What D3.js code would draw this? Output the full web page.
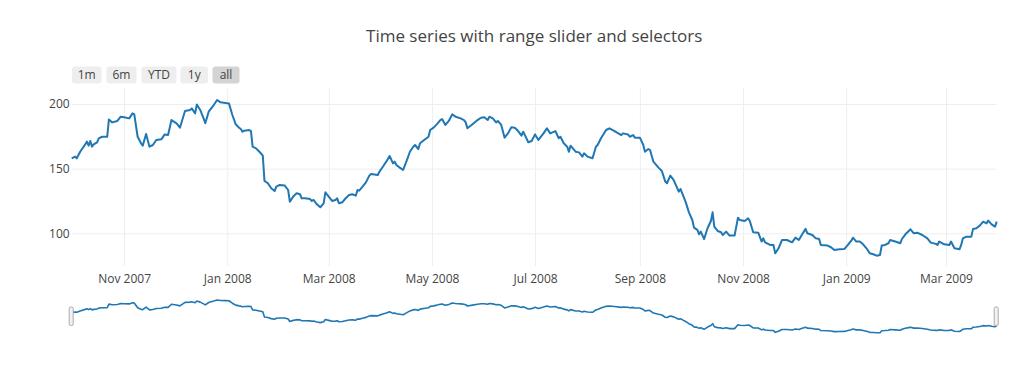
<!DOCTYPE html>
<html>
<head>
<meta charset="utf-8">
<script src="https://cdn.jsdelivr.net/npm/d3@7"></script>
<style>
    body { margin: 0; background: #fff; }
    text { font-family: "Open Sans", verdana, arial, sans-serif; fill: #444; }
</style>
</head>
<body>
<svg id="chart"></svg>
<script>
let title = 'Time series with range slider and selectors';
let buttons = ['1m', '6m', 'YTD', '1y', 'all'];
let activeButton = 'all';
let yTicks = [100, 150, 200];

let dates = [
    '2007-10-01','2007-10-03','2007-10-04','2007-10-06','2007-10-09','2007-10-10','2007-10-11','2007-10-12',
    '2007-10-13','2007-10-14','2007-10-16','2007-10-17','2007-10-19','2007-10-22','2007-10-23','2007-10-25',
    '2007-10-28','2007-10-30','2007-11-01','2007-11-04','2007-11-06','2007-11-07','2007-11-09','2007-11-11',
    '2007-11-12','2007-11-14','2007-11-16','2007-11-18','2007-11-20','2007-11-23','2007-11-25','2007-11-27',
    '2007-11-29','2007-12-02','2007-12-04','2007-12-07','2007-12-10','2007-12-11','2007-12-13','2007-12-14',
    '2007-12-16','2007-12-18','2007-12-19','2007-12-21','2007-12-24','2007-12-26','2007-12-28','2007-12-31',
    '2008-01-02','2008-01-04','2008-01-06','2008-01-08','2008-01-09','2008-01-10','2008-01-11','2008-01-14',
    '2008-01-15','2008-01-16','2008-01-18','2008-01-20','2008-01-22','2008-01-23','2008-01-25','2008-01-27',
    '2008-01-29','2008-01-30','2008-02-01','2008-02-04','2008-02-06','2008-02-07','2008-02-09','2008-02-11',
    '2008-02-13','2008-02-14','2008-02-16','2008-02-19','2008-02-20','2008-02-21','2008-02-23','2008-02-25',
    '2008-02-27','2008-02-28','2008-03-01','2008-03-03','2008-03-05','2008-03-06','2008-03-07','2008-03-09',
    '2008-03-11','2008-03-13','2008-03-15','2008-03-17','2008-03-18','2008-03-19','2008-03-21','2008-03-23',
    '2008-03-25','2008-03-26','2008-03-30','2008-03-31','2008-04-02','2008-04-04','2008-04-06','2008-04-08',
    '2008-04-09','2008-04-10','2008-04-12','2008-04-14','2008-04-16','2008-04-18','2008-04-20','2008-04-21',
    '2008-04-23','2008-04-24','2008-04-27','2008-04-29','2008-04-30','2008-05-02','2008-05-04','2008-05-06',
    '2008-05-07','2008-05-09','2008-05-11','2008-05-13','2008-05-15','2008-05-18','2008-05-20','2008-05-21',
    '2008-05-22','2008-05-25','2008-05-28','2008-05-30','2008-06-01','2008-06-03','2008-06-04','2008-06-06',
    '2008-06-08','2008-06-09','2008-06-11','2008-06-13','2008-06-15','2008-06-17','2008-06-19','2008-06-21',
    '2008-06-23','2008-06-24','2008-06-27','2008-06-29','2008-07-01','2008-07-03','2008-07-06','2008-07-08',
    '2008-07-10','2008-07-13','2008-07-15','2008-07-16','2008-07-18','2008-07-20','2008-07-21','2008-07-22',
    '2008-07-25','2008-07-27','2008-07-29','2008-07-30','2008-08-01','2008-08-04','2008-08-06','2008-08-07',
    '2008-08-09','2008-08-12','2008-08-14','2008-08-17','2008-08-21','2008-08-22','2008-08-25','2008-08-26',
    '2008-08-28','2008-08-29','2008-09-01','2008-09-03','2008-09-04','2008-09-06','2008-09-07','2008-09-09',
    '2008-09-12','2008-09-14','2008-09-16','2008-09-17','2008-09-19','2008-09-21','2008-09-24','2008-09-25',
    '2008-09-26','2008-09-28','2008-09-30','2008-10-02','2008-10-03','2008-10-05','2008-10-06','2008-10-07',
    '2008-10-09','2008-10-11','2008-10-13','2008-10-14','2008-10-15','2008-10-17','2008-10-19','2008-10-20',
    '2008-10-22','2008-10-24','2008-10-27','2008-10-29','2008-10-30','2008-11-02','2008-11-04','2008-11-05',
    '2008-11-07','2008-11-10','2008-11-12','2008-11-13','2008-11-14','2008-11-17','2008-11-19','2008-11-20',
    '2008-11-22','2008-11-24','2008-11-27','2008-11-30','2008-12-02','2008-12-04','2008-12-06','2008-12-08',
    '2008-12-09','2008-12-12','2008-12-14','2008-12-16','2008-12-17','2008-12-21','2008-12-23','2008-12-25',
    '2008-12-28','2008-12-31','2009-01-02','2009-01-04','2009-01-05','2009-01-07','2009-01-09','2009-01-11',
    '2009-01-13','2009-01-15','2009-01-17','2009-01-19','2009-01-21','2009-01-22','2009-01-24','2009-01-26',
    '2009-01-27','2009-01-30','2009-02-02','2009-02-03','2009-02-05','2009-02-07','2009-02-08','2009-02-10',
    '2009-02-12','2009-02-15','2009-02-18','2009-02-20','2009-02-23','2009-02-24','2009-02-25','2009-02-28',
    '2009-03-03','2009-03-04','2009-03-06','2009-03-09','2009-03-10','2009-03-11','2009-03-13','2009-03-16',
    '2009-03-17','2009-03-19','2009-03-21','2009-03-23','2009-03-25','2009-03-26','2009-03-28','2009-03-30',
    '2009-03-31'
];

let prices = [
    158.0,159.3,158.0,163.1,168.8,170.9,167.8,171.4,
    167.0,168.8,170.4,173.5,174.7,174.7,188.1,185.8,
    186.9,190.2,189.7,188.9,192.8,192.0,174.7,169.6,
    167.8,176.8,167.0,168.3,172.2,172.7,176.5,176.0,
    187.6,185.1,181.7,194.6,195.4,196.6,192.8,199.7,
    195.4,188.9,185.1,194.1,199.2,203.1,201.3,200.8,
    200.5,191.5,184.3,181.7,180.7,178.6,179.4,179.9,
    179.1,167.0,165.7,163.1,160.1,140.5,138.7,134.8,
    132.7,136.1,137.4,136.9,133.5,124.5,128.4,131.0,
    130.2,127.1,127.1,126.5,125.0,125.8,122.4,120.1,
    123.2,131.7,128.4,125.0,125.8,127.1,123.2,124.0,
    127.1,129.6,130.2,129.1,133.5,133.0,136.1,139.4,
    144.6,145.9,145.1,147.7,151.5,155.4,159.8,154.1,
    155.4,152.8,150.8,149.0,155.9,163.1,167.0,168.3,
    165.2,169.6,172.7,174.7,179.9,181.7,184.5,187.6,
    188.4,183.8,186.9,192.0,190.2,188.9,187.6,185.8,
    181.2,184.3,187.6,189.4,189.7,187.6,190.2,188.9,
    185.8,186.9,183.8,174.0,177.3,182.0,181.7,179.1,
    175.5,178.6,170.4,171.4,176.5,172.2,177.3,181.2,
    177.3,179.1,173.5,174.7,169.6,167.0,163.1,167.8,
    163.1,162.6,159.3,161.9,159.3,158.0,167.0,168.3,
    173.5,179.9,181.2,179.1,176.0,177.3,176.5,174.7,
    176.0,174.0,174.0,168.3,163.1,165.2,164.4,155.4,
    150.8,148.2,140.0,138.7,144.6,141.2,132.2,134.3,
    131.0,124.5,116.2,110.3,104.4,102.6,99.2,101.3,
    95.6,103.9,109.5,116.2,105.2,101.8,100.8,98.7,
    101.3,98.2,98.2,112.1,110.3,109.5,111.6,109.5,
    100.8,100.5,93.6,96.1,93.0,91.0,91.0,84.5,
    88.4,94.8,94.8,93.0,96.6,94.8,99.2,103.4,
    100.0,98.7,96.1,95.6,91.0,90.5,89.2,87.1,
    87.6,87.9,91.0,94.3,96.6,93.6,93.6,91.5,
    88.4,84.5,83.8,82.7,83.2,90.5,91.0,92.3,
    94.8,93.6,92.3,95.6,99.2,101.8,103.1,100.0,
    100.5,98.7,96.1,92.8,91.8,91.0,93.6,91.5,
    91.0,93.6,88.4,87.6,91.0,96.1,97.4,97.4,
    103.4,103.9,105.9,109.0,107.7,109.8,106.9,105.2,
    109.0
];

function drawChart () {
    let w = 1033;
    let h = 372;
    let parse = d3.timeParse('%Y-%m-%d');
    let data = dates.map((d, i) => { return { date: parse(d), value: prices[i] }; });

    let plot   = { x1: 71.7, x2: 996.7, y1: 88, y2: 266 };
    let slider = { y1: 297.5, y2: 335 };
    let yRange = [74.7, 212.4];

    let svg = d3.select('#chart')
        .attr('width', w)
        .attr('height', h);

    let x = d3.scaleTime()
        .domain(d3.extent(data, (d) => { return d.date; }))
        .range([plot.x1, plot.x2]);

    let y = d3.scaleLinear()
        .domain(yRange)
        .range([plot.y2, plot.y1]);

    let ySlider = d3.scaleLinear()
        .domain(yRange)
        .range([slider.y2, slider.y1]);

    // title
    svg.append('text')
        .attr('x', (plot.x1 + plot.x2) / 2)
        .attr('y', 42)
        .attr('text-anchor', 'middle')
        .style('font-size', '17px')
        .text(title);

    // grid + axes
    let xAxis = d3.axisBottom(x)
        .ticks(d3.timeMonth.every(2))
        .tickFormat(d3.timeFormat('%b %Y'))
        .tickSize(-(plot.y2 - plot.y1))
        .tickPadding(8);

    let gx = svg.append('g')
        .attr('class', 'x axis')
        .attr('transform', 'translate(0,' + plot.y2 + ')')
        .call(xAxis);

    let yAxis = d3.axisLeft(y)
        .tickValues(yTicks)
        .tickSize(-(plot.x2 - plot.x1))
        .tickPadding(2);

    let gy = svg.append('g')
        .attr('class', 'y axis')
        .attr('transform', 'translate(' + plot.x1 + ',0)')
        .call(yAxis);

    [gx, gy].forEach((g) => {
        g.select('.domain').remove();
        g.selectAll('line').attr('stroke', '#eee').attr('stroke-width', 1);
        g.selectAll('text')
            .style('font-size', '12px')
            .style('font-family', '"Open Sans", verdana, arial, sans-serif')
            .attr('fill', '#444');
    });

    // main line
    let line = d3.line()
        .x((d) => { return x(d.date); })
        .y((d) => { return y(d.value); });

    svg.append('path')
        .datum(data)
        .attr('d', line)
        .attr('fill', 'none')
        .attr('stroke', '#1f77b4')
        .attr('stroke-width', 2)
        .attr('stroke-linejoin', 'round');

    // range slider
    let sliderLine = d3.line()
        .x((d) => { return x(d.date); })
        .y((d) => { return ySlider(d.value); });

    svg.append('path')
        .datum(data)
        .attr('d', sliderLine)
        .attr('fill', 'none')
        .attr('stroke', '#1f77b4')
        .attr('stroke-width', 1.6)
        .attr('stroke-linejoin', 'round');

    let mid = (slider.y1 + slider.y2) / 2;
    svg.selectAll('rect.grabber')
        .data(x.range())
        .enter()
        .append('rect')
        .attr('class', 'grabber')
        .attr('x', (d) => { return d - 2.5; })
        .attr('y', mid - 9.3)
        .attr('width', 4)
        .attr('height', 18.6)
        .attr('rx', 1.5)
        .attr('fill', '#f2f2f2')
        .attr('stroke', '#aaa')
        .attr('stroke-width', 1);

    // range selector buttons
    let bx = [72, 106.5, 141.5, 180.5, 212.5];
    let bw = [29.5, 30, 35, 27.5, 27];
    let gb = svg.selectAll('g.button')
        .data(buttons)
        .enter()
        .append('g')
        .attr('class', 'button')
        .attr('transform', (d, i) => { return 'translate(' + bx[i] + ',66.5)'; });

    gb.append('rect')
        .attr('width', (d, i) => { return bw[i]; })
        .attr('height', 17)
        .attr('rx', 3)
        .attr('fill', (d) => { return d === activeButton ? '#d4d4d4' : '#eee'; });

    gb.append('text')
        .attr('x', (d, i) => { return bw[i] / 2; })
        .attr('y', 12.6)
        .attr('text-anchor', 'middle')
        .style('font-size', '12px')
        .text((d) => { return d; });
}

drawChart();
</script>
</body>
</html>
